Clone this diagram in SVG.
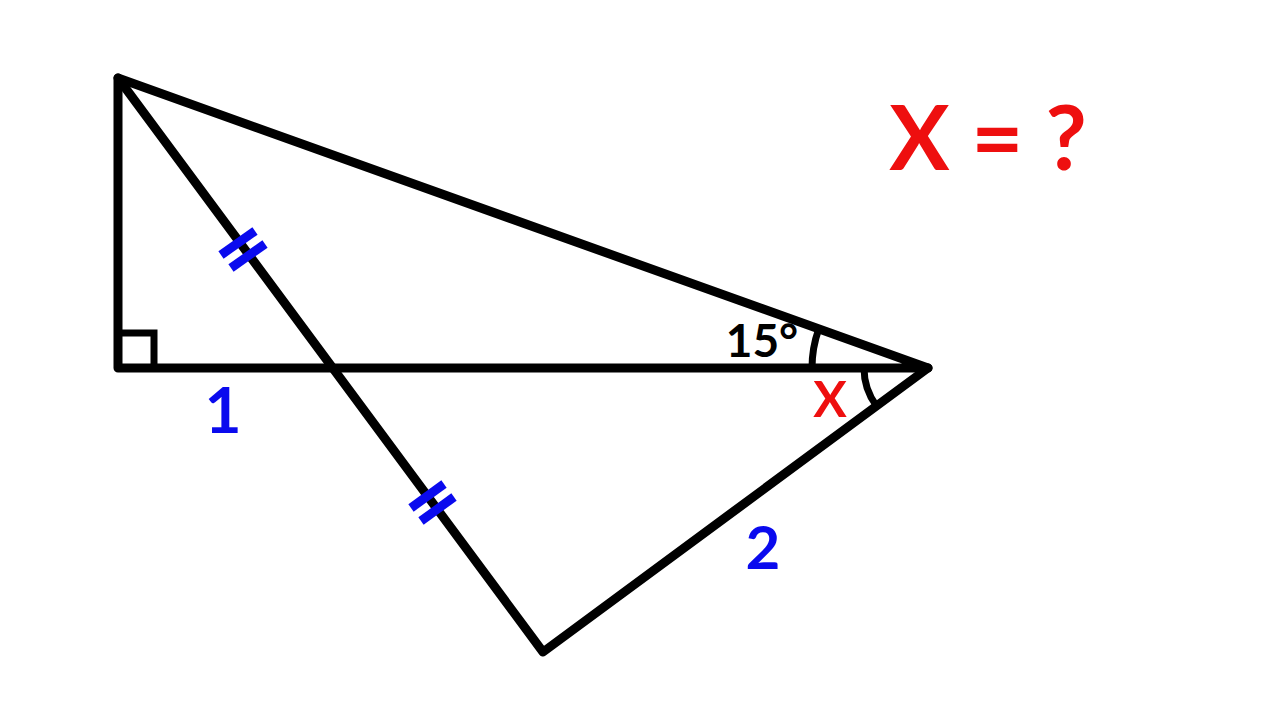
<svg xmlns="http://www.w3.org/2000/svg" width="1280" height="720" viewBox="0 0 1280 720">
<style>
.ln{stroke:#000;stroke-width:9;fill:none;stroke-linecap:round;stroke-linejoin:round}
.tk{stroke:#0a0aee;stroke-width:9;fill:none}
.arc{stroke:#000;stroke-width:7;fill:none}
.t{font-family:Lato,"Open Sans","Liberation Sans",sans-serif;font-weight:bold}
.blue{fill:#0a0aee}
.red{fill:#ee0f0f}
</style>
<rect width="1280" height="720" fill="#fff"/>
<g id="edges">
<path class="ln" d="M118,368 L118,78 L928,368 L118,368"/>
<path class="ln" d="M118,78 L543,652 L928,368"/>
<path class="arc" d="M154,368 L154,333 L118,333"/>
<path class="arc" d="M812,368 A116,116 0 0 1 818.8,328.9"/>
<path class="arc" d="M864,368 A64,64 0 0 0 876.5,406"/>
</g>
<g id="ticks">
<line class="tk" x1="221" y1="255" x2="255" y2="231"/>
<line class="tk" x1="231" y1="268" x2="265" y2="244"/>
<line class="tk" x1="411" y1="508" x2="444" y2="484"/>
<line class="tk" x1="421" y1="521" x2="454" y2="497"/>
</g>
<g id="labels">
<text class="t" x="762" y="357" font-size="46" text-anchor="middle">15°</text>
<text class="t red" x="830" y="417" font-size="50" text-anchor="middle">X</text>
<text class="t blue" x="223" y="433" font-size="64" text-anchor="middle">1</text>
<text class="t blue" x="763" y="569" font-size="60" text-anchor="middle">2</text>
<text class="t red" x="988" y="170" font-size="90" text-anchor="middle">X = ?</text>
</g>
</svg>
